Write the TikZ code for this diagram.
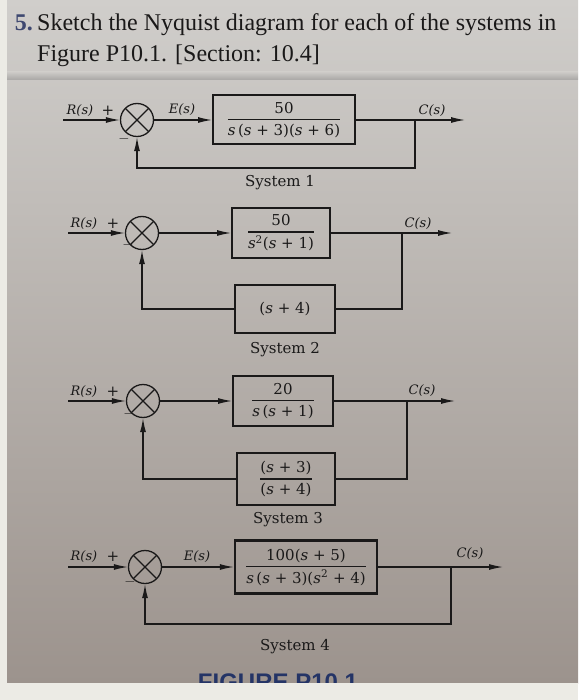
\documentclass[tikz,border=0pt]{standalone}
\usepackage{amsmath}
\usepackage{fontspec}
\setmainfont{DejaVu Serif}
\newfontfamily\titlefont{Liberation Serif}
\newfontfamily\figfont{Liberation Sans}
\usetikzlibrary{arrows.meta}

\definecolor{ink}{RGB}{26,25,25}
\definecolor{pagetop}{RGB}{208,206,203}
\definecolor{pagebot}{RGB}{156,147,141}
\definecolor{margin}{RGB}{236,235,229}
\definecolor{numblue}{RGB}{62,72,112}
\definecolor{bookblue}{RGB}{36,52,102}

\newcommand{\sv}{\textit{s}}
\newcommand{\tf}[2]{$\genfrac{}{}{1.1pt}{0}{\text{#1}}{\text{#2}}$}

\begin{document}
\begin{tikzpicture}[x=1pt,y=-1pt,
    block/.style={draw=ink,line width=2pt,inner sep=0pt,text=ink,font=\fontsize{15}{17}\selectfont},
    junction/.style={circle,draw=ink,line width=1.3pt,minimum size=33pt,inner sep=0pt,
      path picture={\draw[ink,line width=1.3pt]
        (path picture bounding box.north west) -- (path picture bounding box.south east)
        (path picture bounding box.south west) -- (path picture bounding box.north east);}},
    flow/.style={draw=ink,line width=1.2pt,-{Latex[length=14pt,width=6pt]}},
    wire/.style={draw=ink,line width=1.2pt},
    siglabel/.style={inner sep=0pt,text=ink,font=\fontsize{13}{15}\selectfont\itshape},
    sign/.style={inner sep=0pt,text=ink,font=\fontsize{15}{17}\selectfont},
    syslabel/.style={inner sep=0pt,text=ink,font=\fontsize{15}{17}\selectfont}]
  % \draw[help lines,step=20] (0,0) grid (578,700);
  \useasboundingbox (0,0) rectangle (578,700);
  \fill[margin] (0,0) rectangle (578,700);
  \shade[top color=pagetop,bottom color=pagebot] (7,0) rectangle (578,683);
  \shade[top color=pagetop,bottom color=black!50,opacity=0.45] (7,72) rectangle (578,80);

  % question
  \node[anchor=base east,inner sep=0pt,text=numblue,font=\titlefont\bfseries\fontsize{24}{28}\selectfont] (qnum) at (33,31) {5.};
  \node[anchor=base west,inner sep=0pt,text=ink,font=\titlefont\fontsize{24}{28}\selectfont] (title1) at (37,31)
    {Sketch the Nyquist diagram for each of the systems in};
  \node[anchor=base west,inner sep=0pt,text=ink,font=\titlefont\fontsize{24}{28}\selectfont] (title2) at (37,62)
    {Figure P10.1. [Section: 10.4]};

  % system 1
  \node[junction] (sum1) at (137,120) {};
  \node[block,minimum width=142pt,minimum height=49pt] (g1) at (284,120)
    {\tf{50}{\sv\,(\sv\ + 3)(\sv\ + 6)}};
  \coordinate (in1) at (63,120);
  \coordinate (out1) at (465,120);
  \coordinate (br1) at (415,120);
  \coordinate (fb1) at (415,168);
  \draw[flow] (in1) -- (sum1);
  \draw[flow] (sum1) -- (g1);
  \draw[flow] (g1) -- (out1);
  \draw[flow] (br1) -- (fb1) -| (sum1.south);
  \node[siglabel] (r1) at (80,111) {R(s)};
  \node[sign] (p1) at (108,111) {+};
  \node[sign] (m1) at (124,139) {$-$};
  \node[siglabel] (e1) at (182,110) {E(s)};
  \node[siglabel] (c1) at (432,111) {C(s)};
  \node[syslabel] (sys1) at (280,183) {System 1};

  % system 2
  \node[junction] (sum2) at (142,233) {};
  \node[block,minimum width=98pt,minimum height=49pt] (g2) at (281,233)
    {\tf{50}{\sv\textsuperscript{2}(\sv\ + 1)}};
  \node[block,minimum width=100pt,minimum height=48pt] (h2) at (285,309) {(\sv\ + 4)};
  \coordinate (in2) at (68,233);
  \coordinate (out2) at (452,233);
  \coordinate (br2) at (402,233);
  \draw[flow] (in2) -- (sum2);
  \draw[flow] (sum2) -- (g2);
  \draw[flow] (g2) -- (out2);
  \draw[wire] (br2) |- (h2);
  \draw[flow] (h2) -| (sum2.south);
  \node[siglabel] (r2) at (84,224) {R(s)};
  \node[sign] (p2) at (113,224) {+};
  \node[sign] (m2) at (128,245) {$-$};
  \node[siglabel] (c2) at (418,224) {C(s)};
  \node[syslabel] (sys2) at (285,350) {System 2};

  % system 3
  \node[junction] (sum3) at (143,401) {};
  \node[block,minimum width=100pt,minimum height=50pt] (g3) at (283,401)
    {\tf{20}{\sv\,(\sv\ + 1)}};
  \node[block,minimum width=98pt,minimum height=52pt] (h3) at (286,479)
    {\tf{(\sv\ + 3)}{(\sv\ + 4)}};
  \coordinate (in3) at (68,401);
  \coordinate (out3) at (455,401);
  \coordinate (br3) at (407,401);
  \draw[flow] (in3) -- (sum3);
  \draw[flow] (sum3) -- (g3);
  \draw[flow] (g3) -- (out3);
  \draw[wire] (br3) |- (h3);
  \draw[flow] (h3) -| (sum3.south);
  \node[siglabel] (r3) at (84,392) {R(s)};
  \node[sign] (p3) at (113,392) {+};
  \node[sign] (m3) at (129,414) {$-$};
  \node[siglabel] (c3) at (422,391) {C(s)};
  \node[syslabel] (sys3) at (288,520) {System 3};

  % system 4
  \node[junction] (sum4) at (145,567) {};
  \node[block,line width=2.4pt,minimum width=142pt,minimum height=53pt] (g4) at (306,567)
    {\tf{100(\sv\ + 5)}{\sv\,(\sv\ + 3)(\sv\textsuperscript{2} + 4)}};
  \coordinate (in4) at (68,567);
  \coordinate (out4) at (503,567);
  \coordinate (br4) at (451,567);
  \coordinate (fb4) at (451,624);
  \draw[flow] (in4) -- (sum4);
  \draw[flow] (sum4) -- (g4);
  \draw[flow] (g4) -- (out4);
  \draw[flow] (br4) -- (fb4) -| (sum4.south);
  \node[siglabel] (r4) at (84,557) {R(s)};
  \node[sign] (p4) at (113,557) {+};
  \node[sign] (m4) at (130,582) {$-$};
  \node[siglabel] (e4) at (197,557) {E(s)};
  \node[siglabel] (c4) at (470,554) {C(s)};
  \node[syslabel] (sys4) at (295,647) {System 4};

  \node[anchor=base,inner sep=0pt,text=bookblue,font=\figfont\bfseries\fontsize{24}{28}\selectfont] (fig) at (278,690) {FIGURE P10.1};
  \fill[margin] (0,683) rectangle (578,700);
  \fill[margin] (0,0) rectangle (7,683);
\end{tikzpicture}
\end{document}
